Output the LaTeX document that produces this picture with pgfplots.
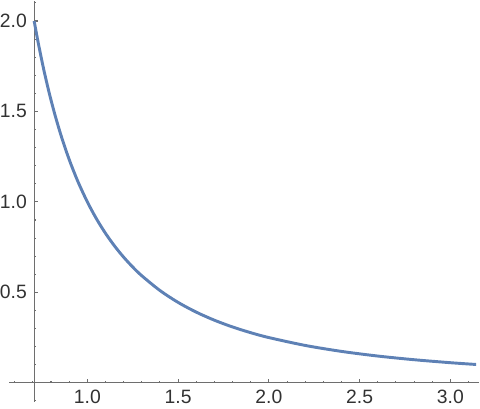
\documentclass[border=0pt]{standalone}
\usepackage{pgfplots}
\pgfplotsset{compat=1.18}
\usepackage{fontspec}
\setmainfont{Liberation Sans}
\definecolor{mmablue}{RGB}{94,129,181}
\definecolor{axgray}{RGB}{110,110,110}
\definecolor{lblgray}{RGB}{50,50,50}
\begin{document}
\begin{tikzpicture}
\begin{axis}[
    scale only axis,
    width=352.9pt, height=301.3pt,
    xmin=0.57, xmax=3.16,
    ymin=-0.106, ymax=2.113,
    axis lines=left,
    axis x line shift=-14.4pt,
    axis y line shift=-18.7pt,
    axis line style={draw=axgray, line width=0.8pt, -},
    xtick={1,1.5,2,2.5,3},
    ytick={0.5,1,1.5,2},
    minor xtick={0.6,0.7,0.8,0.9,1.1,1.2,1.3,1.4,1.6,1.7,1.8,1.9,2.1,2.2,2.3,2.4,2.6,2.7,2.8,2.9,3.1},
    minor ytick={-0.1,0.1,0.2,0.3,0.4,0.6,0.7,0.8,0.9,1.1,1.2,1.3,1.4,1.6,1.7,1.8,1.9,2.1},
    tick align=inside,
    major tick length=3pt,
    minor tick length=1.6pt,
    tick style={draw=axgray, line width=0.8pt},
    xticklabel style={font=\fontsize{14.5}{14.5}\selectfont, text=lblgray, yshift=-2pt},
    yticklabel style={font=\fontsize{14.5}{14.5}\selectfont, text=lblgray, inner xsep=0pt, xshift=-5.3pt},
    /pgf/number format/.cd, fixed, fixed zerofill, precision=1, assume math mode=true,
    ]
\addplot[color=mmablue, line width=2.2pt, smooth] coordinates {
    (0.7071,2.000)(0.73,1.8765)(0.76,1.7313)(0.79,1.6023)(0.82,1.4872)(0.85,1.3841)
    (0.88,1.2913)(0.91,1.2076)(0.95,1.1080)(1.0,1.0000)(1.05,0.9070)(1.1,0.8264)
    (1.15,0.7561)(1.2,0.6944)(1.25,0.6400)(1.3,0.5917)(1.4,0.5102)(1.5,0.4444)
    (1.6,0.3906)(1.7,0.3460)(1.8,0.3086)(1.9,0.2770)(2.0,0.2500)(2.2,0.2066)
    (2.4,0.1736)(2.6,0.1479)(2.8,0.1276)(3.0,0.1111)(3.1416,0.1013)
};
\end{axis}
\end{tikzpicture}
\end{document}
